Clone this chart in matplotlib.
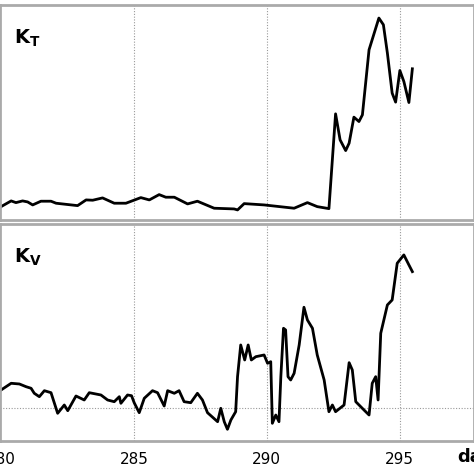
import matplotlib
matplotlib.use("Agg")
import matplotlib.pyplot as plt

kt_day = [280.0,280.38,280.56,280.81,281.0,281.19,281.5,281.88,282.07,282.88,283.2,283.45,283.82,284.26,284.7,285.26,285.58,285.95,286.2,286.52,287.02,287.39,288.02,288.77,288.9,289.15,289.9,291.03,291.53,291.9,292.34,292.59,292.76,292.97,293.1,293.28,293.47,293.6,293.85,294.22,294.39,294.54,294.72,294.85,295.01,295.16,295.35,295.48]
kt_val = [13.3,19,17.3,19,18,15,18.7,18.7,16.7,14.3,20,19.7,22,16.7,16.7,22.3,20,25.3,22.7,22.7,16,18.7,11.7,11,10,16.3,15,11.7,17.3,13.3,11.3,106,80,69.3,76.7,102.7,98.3,105,170,201.7,195,166.7,126.7,117.7,149.3,138.3,117.3,151]

kv_day = [280.0,280.38,280.69,280.94,281.13,281.25,281.44,281.63,281.88,282.13,282.38,282.51,282.63,282.82,283.13,283.32,283.76,284.01,284.26,284.45,284.51,284.76,284.91,285.01,285.2,285.39,285.7,285.89,286.14,286.27,286.52,286.7,286.89,287.14,287.39,287.58,287.77,288.15,288.27,288.4,288.52,288.65,288.83,288.9,289.02,289.17,289.3,289.42,289.59,289.9,290.03,290.15,290.21,290.34,290.46,290.53,290.63,290.71,290.8,290.9,291.03,291.22,291.4,291.53,291.72,291.9,292.16,292.34,292.47,292.59,292.91,293.1,293.22,293.35,293.66,293.85,293.97,294.1,294.19,294.29,294.54,294.72,294.91,295.16,295.35,295.48]
kv_val = [51,57.7,57,54.3,52.7,47.7,44.3,50.3,48.3,27.7,36,30.3,36,45,41,48.3,46,41,39.3,44.3,37.7,46,45.3,38.3,28.3,42.7,50.3,48.3,35,50.3,47.7,50.3,39.3,38.3,47.7,41,28.3,19.3,32.7,19.3,11.7,21,29.3,64.3,96,81,96,81,84.3,86,77.7,79.3,17.7,26,19.3,64.3,112.7,111,64.3,61,67.7,96,133.7,121,112.7,86,61,29.3,36,29.3,36,78.3,71,39.3,31,26,57.7,64.3,41,107.7,136,141,177.7,186,176,169.3]
kv_ref = 33.3

xticks = [285, 290, 295]
xticklabels = ["285", "290", "295"]

fig = plt.figure(figsize=(4.74, 4.74), dpi=100)
ax1 = fig.add_axes([0.0, 0.536, 1.0, 0.454])
ax2 = fig.add_axes([0.0, 0.0696, 1.0, 0.458])

for ax in (ax1, ax2):
    ax.set_xlim(279.96, 297.8)
    ax.set_xticks([280] + xticks)
    for x in xticks:
        ax.axvline(x, color="#999999", lw=0.8, ls=(0, (1, 1.5)), zorder=0)
    for s in ax.spines.values():
        s.set_color("#aaaaaa")
        s.set_linewidth(2)
    ax.set_yticks([])

ax1.plot(kt_day, kt_val, color="black", lw=2)
ax1.set_ylim(0, 215)
ax1.tick_params(axis="x", labelbottom=False, length=0)
ax1.text(0.03, 0.82, r"$\mathbf{K_T}$", transform=ax1.transAxes, fontsize=14)

ax2.plot(kv_day, kv_val, color="black", lw=2)
ax2.axhline(kv_ref, color="#999999", lw=0.8, ls=(0, (1, 1.5)), zorder=0)
ax2.set_ylim(0, 217)
ax2.set_xticklabels(["280"] + xticklabels)
ax2.tick_params(axis="x", length=0, labelsize=11, pad=8)
ax2.text(0.03, 0.82, r"$\mathbf{K_V}$", transform=ax2.transAxes, fontsize=14)
fig.text(0.965, 0.025, "days", fontsize=13, fontweight="bold")

fig.savefig("out.png", dpi=100)
